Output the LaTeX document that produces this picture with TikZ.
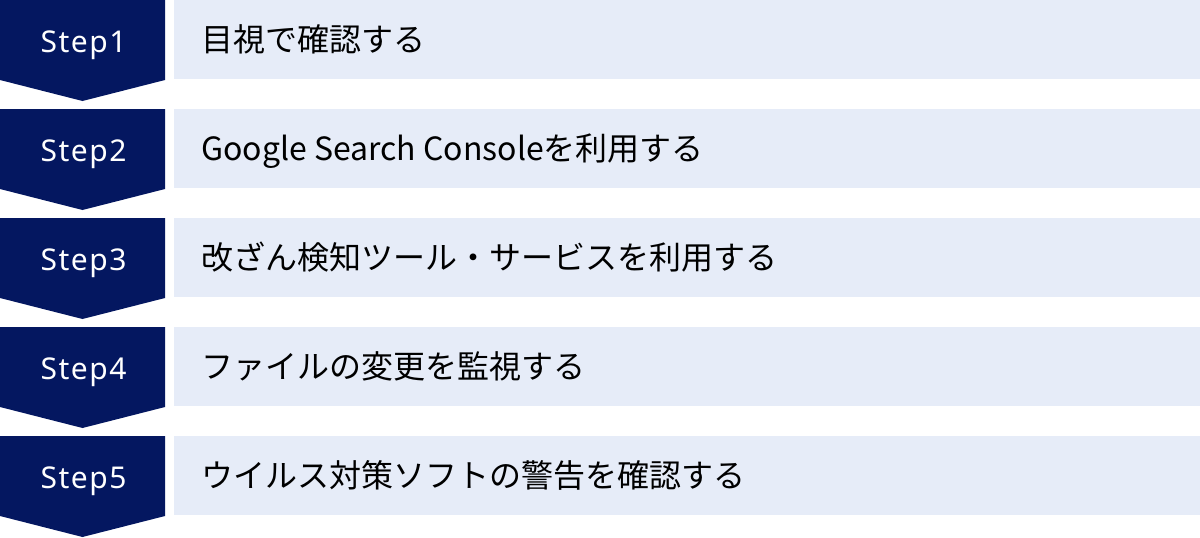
\documentclass[tikz,border=0pt]{standalone}
\usepackage{fontspec}
\setmainfont{Noto Sans}
\newfontfamily\stepfont[LetterSpace=5]{Noto Sans}
\newfontfamily\jpfont{Noto Sans CJK JP}
\definecolor{navy}{RGB}{4,23,96}
\definecolor{pale}{RGB}{230,236,248}
\begin{document}
\begin{tikzpicture}[x=1pt,y=-1pt,
  stepshape/.style={fill=navy,draw=none},
  steplabel/.style={text=white,font=\stepfont\fontsize{30}{32}\selectfont,anchor=base,inner sep=0pt},
  barbox/.style={fill=pale,draw=none},
  barlabel/.style={text=black,font=\jpfont\fontsize{32}{34}\selectfont,anchor=base west,inner sep=0pt}]
\useasboundingbox (0,0) rectangle (1200,538);
\foreach \i/\t in {0/目視で確認する,1/Google Search Consoleを利用する,2/改ざん検知ツール・サービスを利用する,3/ファイルの変更を監視する,4/ウイルス対策ソフトの警告を確認する}{
  \pgfmathsetmacro{\yy}{109*\i}
  \pgfmathtruncatemacro{\n}{\i+1}
  \fill[stepshape] (0,\yy) -- (165,\yy) -- (165,\yy+80) -- (82.5,\yy+101) -- (0,\yy+80) -- cycle;
  \node[steplabel] (s\n) at (83.5,\yy+52) {Step\n};
  \fill[barbox] (174,\yy) rectangle (1200,\yy+79);
  \node[barlabel] (t\n) at (201,\yy+51) {\t};
}
\end{tikzpicture}
\end{document}
